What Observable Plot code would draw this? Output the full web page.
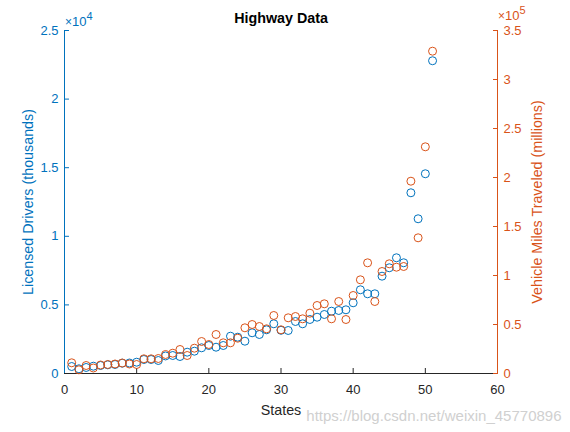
<!DOCTYPE html>
<html>
<head>
<meta charset="utf-8">
<script src="https://cdn.jsdelivr.net/npm/d3@7"></script>
<script src="https://cdn.jsdelivr.net/npm/@observablehq/plot@0.6"></script>
<style>
  html, body { margin: 0; padding: 0; background: #fff; }
  #chart { position: relative; width: 570px; height: 432px; }
  #chart > svg { position: absolute; left: 0; top: 0; }
</style>
</head>
<body>
<div id="chart"></div>
<script>
const states = d3.range(1, 52);
const licensedDrivers = [510, 343, 440, 532, 583, 634, 656, 751, 765, 824,
  1020, 1020, 948, 1280, 1312, 1239, 1553, 1626, 1874, 2041,
  1917, 2041, 2719, 2646, 2355, 2967, 2843, 3186, 3623, 3150,
  3135, 3791, 3623, 3937, 4104, 4301, 4542, 4593, 4644, 5154,
  6102, 5810, 5810, 7093, 7706, 8435, 8070, 13173, 11278, 14558, 22796];
const vehicleMiles = [10918, 3776, 8163, 5600, 8673, 9184, 9694, 10714, 9694, 9184,
  15000, 15000, 15306, 19388, 20714, 24490, 18367, 25816, 32653, 29592,
  39796, 31326, 31326, 36020, 46633, 50000, 47959, 45612, 59184, 44592,
  56837, 58163, 55816, 61531, 69388, 71122, 55816, 73469, 55102, 79592,
  95612, 112959, 73469, 104082, 111939, 108469, 109184, 196224, 138469, 231327, 328877];
const xTicks = [0, 10, 20, 30, 40, 50, 60];
const leftTicks = [0, 5000, 10000, 15000, 20000, 25000];
const rightTicks = [0, 50000, 100000, 150000, 200000, 250000, 300000, 350000];

const blue = "#0072BD";
const orange = "#D95319";
const dark = "#262626";
const font = "'Liberation Sans', Arial, sans-serif";

const leftData = states.map((s, i) => ({state: s, value: licensedDrivers[i]}));
const rightData = states.map((s, i) => ({state: s, value: vehicleMiles[i]}));

const common = {
  width: 570, height: 432,
  marginLeft: 64, marginRight: 73, marginTop: 30, marginBottom: 59,
  style: {fontFamily: font, fontSize: "13px", background: "transparent", overflow: "visible"}
};

const p1 = Plot.plot({
  ...common,
  x: {domain: [0, 60]},
  y: {domain: [0, 25000]},
  marks: [
    Plot.axisX({ticks: xTicks, tickSize: -5, tickPadding: 16.5, color: dark, fontSize: 13, label: null}),
    Plot.axisY({anchor: "left", ticks: leftTicks, tickSize: -5, tickPadding: 11, color: blue, fontSize: 13,
      tickFormat: d => d3.format("~g")(d / 1e4), label: null}),
    Plot.ruleY([0], {stroke: dark, strokeWidth: 1}),
    Plot.ruleX([0], {stroke: blue, strokeWidth: 1}),
    Plot.dot(leftData, {x: "state", y: "value", r: 4, stroke: blue, strokeWidth: 1}),
    Plot.text(["Highway Data"], {frameAnchor: "top", dy: -12, lineAnchor: "middle", textAnchor: "middle", fontWeight: "bold", fontSize: 14.3, fill: "#000"}),
    Plot.text(["States"], {frameAnchor: "bottom", dy: 37, lineAnchor: "middle", textAnchor: "middle", fontSize: 14.3, fill: dark}),
    Plot.text(["Licensed Drivers (thousands)"], {frameAnchor: "left", dx: -36, rotate: -90, lineAnchor: "middle", textAnchor: "middle", fontSize: 14.3, fill: blue}),
    Plot.text(["https://blog.csdn.net/weixin_45770896"], {frameAnchor: "bottom-right", dx: 64, dy: 43, lineAnchor: "middle", textAnchor: "end", fontSize: 15, fill: "#d0d0d0"})
  ]
});

const p2 = Plot.plot({
  ...common,
  x: {domain: [0, 60], axis: null},
  y: {domain: [0, 350000]},
  marks: [
    Plot.axisY({anchor: "right", ticks: rightTicks, tickSize: -5, tickPadding: 11, color: orange, fontSize: 13,
      tickFormat: d => d3.format("~g")(d / 1e5), label: null}),
    Plot.ruleX([60], {stroke: orange, strokeWidth: 1}),
    Plot.dot(rightData, {x: "state", y: "value", r: 4, stroke: orange, strokeWidth: 1}),
    Plot.text(["Vehicle Miles Traveled (millions)"], {frameAnchor: "right", dx: 40, rotate: -90, lineAnchor: "middle", textAnchor: "middle", fontSize: 14.3, fill: orange})
  ]
});

const chart = document.getElementById("chart");
chart.appendChild(p1);
chart.appendChild(p2);

// exponent labels
function exponent(svg, x, y, exp, color) {
  const t = d3.select(svg).append("text")
    .attr("x", x).attr("y", y)
    .attr("fill", color)
    .attr("text-anchor", "start")
    .style("font-family", font)
    .style("font-size", "13px");
  t.append("tspan").text("\u00d7").style("font-size", "12px");
  t.append("tspan").text("10");
  t.append("tspan").text(exp).attr("dy", -6).style("font-size", "11px");
}
exponent(p1, 65, 26, "4", blue);
exponent(p2, 498, 20, "5", orange);
</script>
</body>
</html>
